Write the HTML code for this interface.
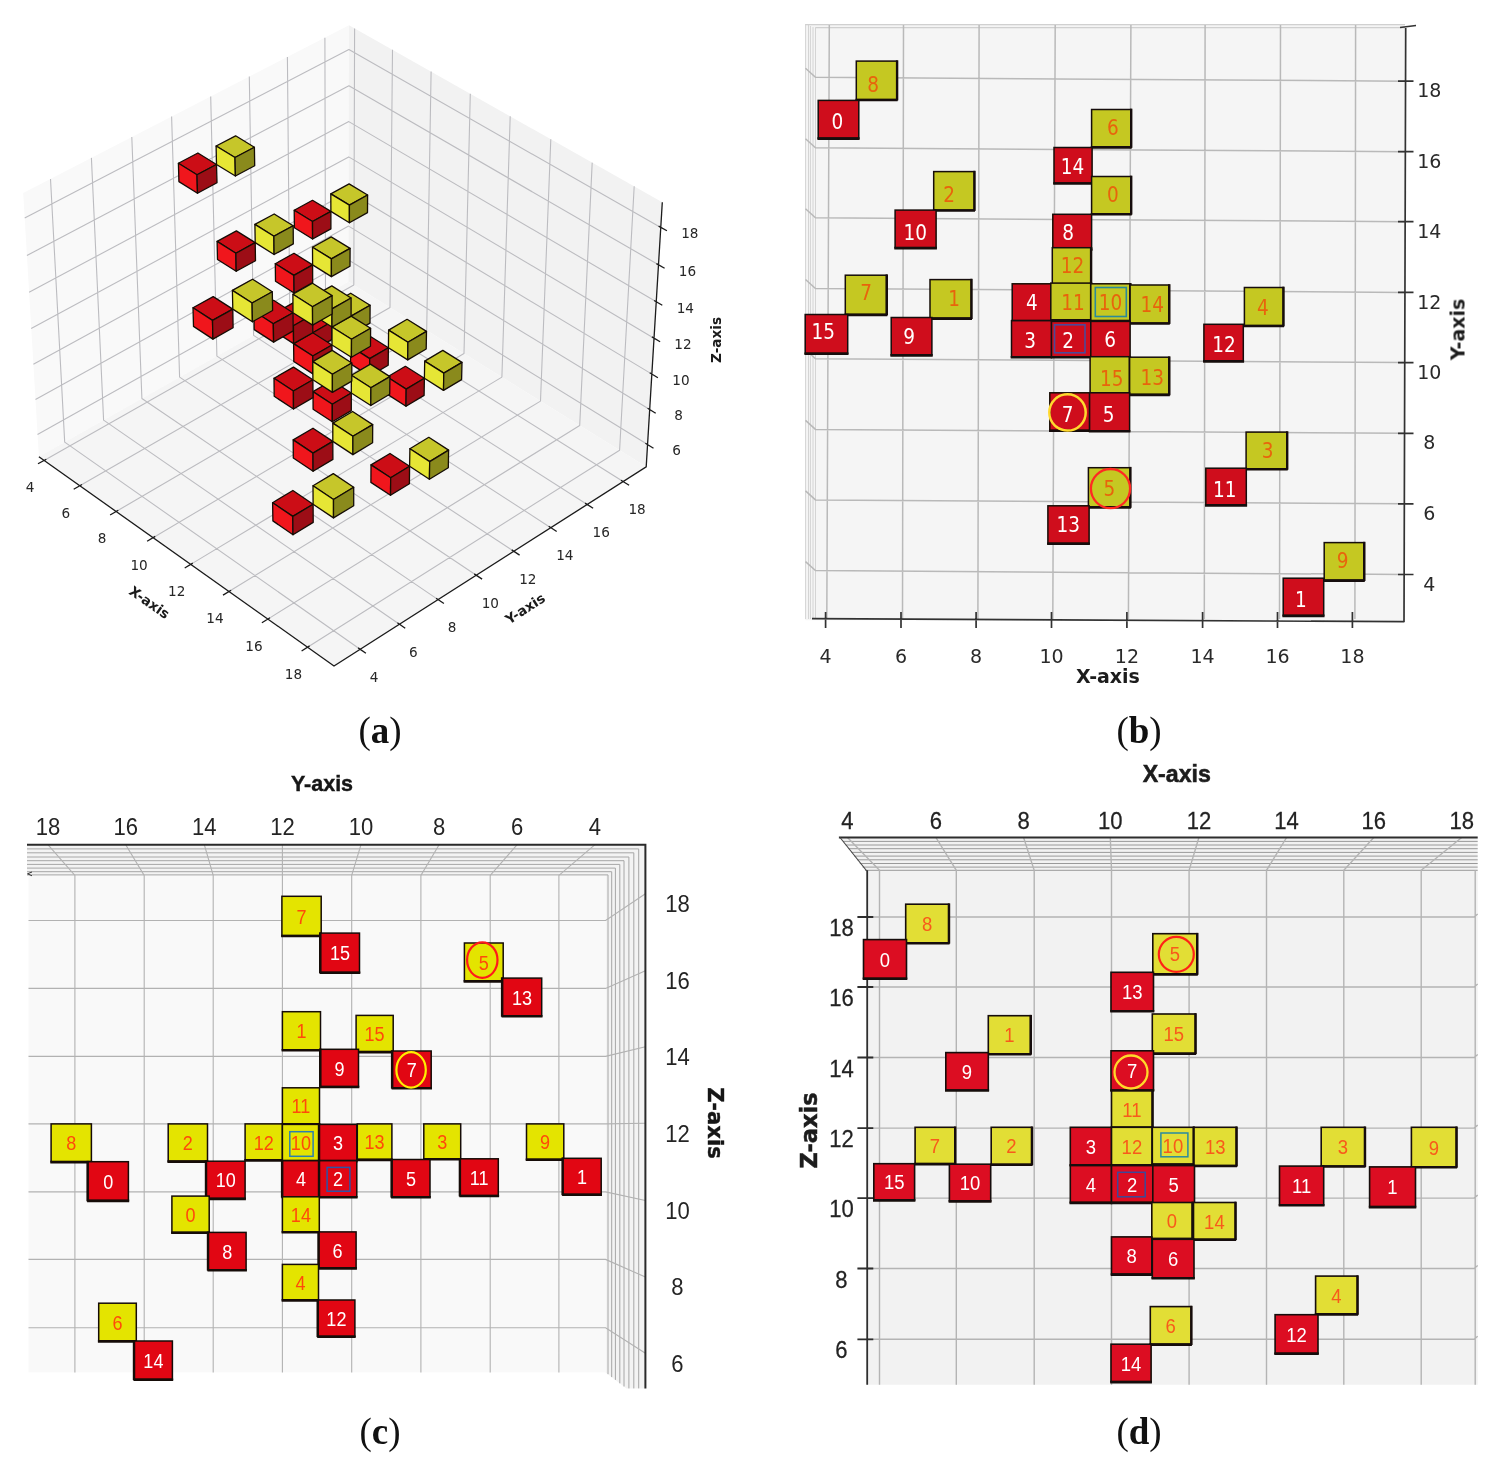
<!DOCTYPE html>
<html><head><meta charset="utf-8"><title>Figure</title>
<style>html,body{margin:0;padding:0;background:#fff}svg{display:block}</style></head>
<body>
<svg width="1500" height="1466" viewBox="0 0 1500 1466">
<defs><filter id="bl1" x="-2%" y="-2%" width="104%" height="104%"><feGaussianBlur stdDeviation="0.55"/></filter><filter id="bl2" x="-2%" y="-2%" width="104%" height="104%"><feGaussianBlur stdDeviation="0.7"/></filter><filter id="bl3" x="-2%" y="-2%" width="104%" height="104%"><feGaussianBlur stdDeviation="0.4"/></filter></defs>
<rect width="1500" height="1466" fill="#fff"/>
<g id="pa" filter="url(#bl1)">
<polygon points="38.9,456.7 348.5,281.7 349,25.2 23.2,193" fill="#f9f9f9"/>
<polygon points="348.5,281.7 646.2,466.8 662.3,202.2 349,25.2" fill="#f2f2f2"/>
<polygon points="38.9,456.7 334,666 646.2,466.8 348.5,281.7" fill="#f5f5f5"/>
<path d="M44.1,460.4 L353.8,285 L354.6,28.4 M79.8,485.7 L390,307.5 L392.5,49.8 M116.1,511.5 L426.7,330.3 L431.1,71.6 M153.1,537.7 L464,353.5 L470.3,93.8 M190.7,564.4 L501.9,377.1 L510.2,116.3 M228.9,591.5 L540.5,401.1 L550.8,139.2 M267.9,619.1 L579.7,425.5 L592.2,162.6 M307.5,647.2 L619.6,450.3 L634.2,186.3 M360.1,649.3 L64.7,442.1 L50.5,179 M399.4,624.3 L103.6,420.1 L91.4,157.9 M438.1,599.6 L141.9,398.5 L131.8,137.1 M476.3,575.2 L179.6,377.1 L171.6,116.6 M513.8,551.3 L216.9,356.1 L210.7,96.4 M550.8,527.7 L253.6,335.4 L249.3,76.6 M587.2,504.5 L289.8,314.9 L287.4,57 M623.1,481.5 L325.5,294.7 L324.9,37.7 M37.5,434.4 L348.6,260 L647.6,444.5 M35.5,399.6 L348.6,226.1 L649.7,409.5 M33.4,364.3 L348.7,191.7 L651.9,374.1 M31.2,328.5 L348.7,156.9 L654,338.2 M29.1,292.2 L348.8,121.6 L656.3,301.8 M26.9,255.4 L348.9,85.8 L658.5,264.8 M24.7,218.1 L348.9,49.6 L660.8,227.4" fill="none" stroke="#bcbcc0" stroke-width="1.1" stroke-linejoin="round"/>
<path d="M38.9,456.7 L334,666 L646.2,466.8 L662.3,202.2 M46.3,459.2 L38,463.8 M82,484.5 L73.7,489.2 M118.3,510.2 L110.1,515 M155.2,536.4 L147.1,541.3 M192.8,563.1 L184.7,568 M231.1,590.2 L223,595.1 M270,617.8 L261.9,622.8 M309.6,645.9 L301.6,651 M358.1,647.9 L365.9,653.3 M397.4,622.8 L405.2,628.2 M436.1,598.2 L443.9,603.5 M474.2,573.9 L482.1,579.1 M511.7,549.9 L519.6,555.1 M548.7,526.3 L556.7,531.5 M585.1,503.1 L593.1,508.2 M621,480.2 L629.1,485.3 M645.4,443.2 L653.5,448.2 M647.6,408.2 L655.7,413.2 M649.7,372.8 L657.9,377.7 M651.9,336.9 L660.1,341.8 M654.1,300.5 L662.3,305.3 M656.4,263.6 L664.6,268.3 M658.6,226.1 L666.9,230.8" fill="none" stroke="#1a1a1a" stroke-width="1.3"/>
<g font-family="'DejaVu Sans','Liberation Sans',sans-serif" font-size="13.6" fill="#262626" text-anchor="middle">
<text x="30.1" y="492.3">4</text>
<text x="65.8" y="517.6">6</text>
<text x="102.1" y="543.4">8</text>
<text x="139.1" y="569.6">10</text>
<text x="176.7" y="596.3">12</text>
<text x="214.9" y="623.4">14</text>
<text x="253.9" y="651">16</text>
<text x="293.5" y="679.1">18</text>
<text x="374.1" y="681.7">4</text>
<text x="413.4" y="656.7">6</text>
<text x="452.1" y="632">8</text>
<text x="490.3" y="607.6">10</text>
<text x="527.8" y="583.7">12</text>
<text x="564.8" y="560.1">14</text>
<text x="601.2" y="536.9">16</text>
<text x="637.1" y="513.9">18</text>
<text x="676.6" y="455.4">6</text>
<text x="678.7" y="420.4">8</text>
<text x="680.9" y="385">10</text>
<text x="683" y="349.1">12</text>
<text x="685.3" y="312.7">14</text>
<text x="687.5" y="275.7">16</text>
<text x="689.8" y="238.3">18</text>
<g font-weight="bold" fill="#1a1a1a">
<text transform="translate(149.5,602.3) rotate(35)" y="4.9">X-axis</text>
<text transform="translate(525,608.5) rotate(-33)" y="4.9">Y-axis</text>
<text transform="translate(716,340) rotate(-90)" y="4.9">Z-axis</text>
</g></g>
<g stroke="#140c06" stroke-width="1.3" stroke-linejoin="round">
<polygon points="312.5,221.5 294.2,210.3 312.5,200.3 330.9,211.4" fill="#cc1019"/>
<polygon points="312.5,221.5 294.2,210.3 294.4,227.7 312.6,239" fill="#f0141f"/>
<polygon points="312.5,221.5 330.9,211.4 330.9,228.9 312.6,239" fill="#9c0a12"/>
<polygon points="349.4,205.1 330.8,193.9 349.1,183.9 367.6,195" fill="#c6c62a"/>
<polygon points="349.4,205.1 330.8,193.9 330.9,211.4 349.4,222.7" fill="#e6e634"/>
<polygon points="349.4,205.1 367.6,195 367.5,212.6 349.4,222.7" fill="#8a8a1c"/>
<polygon points="406.2,389.1 387.3,377 405.4,366.3 424.4,378.3" fill="#cc1019"/>
<polygon points="406.2,389.1 387.3,377 387.1,394.1 406,406.2" fill="#f0141f"/>
<polygon points="406.2,389.1 424.4,378.3 424.1,395.4 406,406.2" fill="#9c0a12"/>
<polygon points="443.8,373.1 424.7,361.1 442.8,350.4 462,362.4" fill="#c6c62a"/>
<polygon points="443.8,373.1 424.7,361.1 424.4,378.3 443.5,390.4" fill="#e6e634"/>
<polygon points="443.8,373.1 462,362.4 461.6,379.6 443.5,390.4" fill="#8a8a1c"/>
<polygon points="293.9,275.4 275.3,263.7 294,253.3 312.6,264.9" fill="#cc1019"/>
<polygon points="293.9,275.4 275.3,263.7 275.5,281.3 294.1,293" fill="#f0141f"/>
<polygon points="293.9,275.4 312.6,264.9 312.7,282.6 294.1,293" fill="#9c0a12"/>
<polygon points="331.4,258.9 312.5,247.2 331.2,236.9 350.1,248.4" fill="#c6c62a"/>
<polygon points="331.4,258.9 312.5,247.2 312.6,264.9 331.4,276.6" fill="#e6e634"/>
<polygon points="331.4,258.9 350.1,248.4 350,266.2 331.4,276.6" fill="#8a8a1c"/>
<polygon points="369.7,358.6 350.6,346.4 369.3,335.7 388.4,347.7" fill="#cc1019"/>
<polygon points="369.7,358.6 350.6,346.4 350.6,363.9 369.6,376.1" fill="#f0141f"/>
<polygon points="369.7,358.6 388.4,347.7 388.2,365.3 369.6,376.1" fill="#9c0a12"/>
<polygon points="407.9,342.2 388.6,330.1 407.1,319.3 426.5,331.4" fill="#c6c62a"/>
<polygon points="407.9,342.2 388.6,330.1 388.4,347.7 407.7,359.9" fill="#e6e634"/>
<polygon points="407.9,342.2 426.5,331.4 426.2,349 407.7,359.9" fill="#8a8a1c"/>
<polygon points="312.8,332.7 293.7,320.5 312.7,309.8 331.8,321.8" fill="#cc1019"/>
<polygon points="312.8,332.7 293.7,320.5 293.9,338.3 312.9,350.5" fill="#f0141f"/>
<polygon points="312.8,332.7 331.8,321.8 331.8,339.6 312.9,350.5" fill="#9c0a12"/>
<polygon points="332.3,404.2 313,391.6 332.1,380.5 351.3,393" fill="#cc1019"/>
<polygon points="332.3,404.2 313,391.6 313.1,409.3 332.3,421.8" fill="#f0141f"/>
<polygon points="332.3,404.2 351.3,393 351.3,410.6 332.3,421.8" fill="#9c0a12"/>
<polygon points="351.1,316.1 331.8,303.9 350.7,293.2 370.1,305.2" fill="#c6c62a"/>
<polygon points="351.1,316.1 331.8,303.9 331.8,321.8 351.1,334" fill="#e6e634"/>
<polygon points="351.1,316.1 370.1,305.2 370,323.1 351.1,334" fill="#8a8a1c"/>
<polygon points="235.9,253.2 217.1,241.4 236.4,230.9 255.2,242.6" fill="#cc1019"/>
<polygon points="235.9,253.2 217.1,241.4 217.5,259.5 236.2,271.3" fill="#f0141f"/>
<polygon points="235.9,253.2 255.2,242.6 255.5,260.7 236.2,271.3" fill="#9c0a12"/>
<polygon points="390.7,477.8 371,464.9 390,453.5 409.6,466.3" fill="#cc1019"/>
<polygon points="390.7,477.8 371,464.9 370.9,482.4 390.5,495.3" fill="#f0141f"/>
<polygon points="390.7,477.8 409.6,466.3 409.4,483.8 390.5,495.3" fill="#9c0a12"/>
<polygon points="370.9,387.7 351.4,375.2 370.4,364.1 389.9,376.6" fill="#c6c62a"/>
<polygon points="370.9,387.7 351.4,375.2 351.3,393 370.8,405.5" fill="#e6e634"/>
<polygon points="370.9,387.7 389.9,376.6 389.7,394.3 370.8,405.5" fill="#8a8a1c"/>
<polygon points="312.8,356 293.6,343.6 312.8,332.7 332,345" fill="#cc1019"/>
<polygon points="312.8,356 293.6,343.6 293.8,361.5 312.9,373.9" fill="#f0141f"/>
<polygon points="312.8,356 332,345 332,362.8 312.9,373.9" fill="#9c0a12"/>
<polygon points="293.4,325.7 274.3,313.5 293.6,302.6 312.7,314.8" fill="#cc1019"/>
<polygon points="293.4,325.7 274.3,313.5 274.5,331.4 293.6,343.6" fill="#f0141f"/>
<polygon points="293.4,325.7 312.7,314.8 312.8,332.7 293.6,343.6" fill="#9c0a12"/>
<polygon points="273.9,236.3 254.9,224.4 274.2,214 293.2,225.7" fill="#c6c62a"/>
<polygon points="273.9,236.3 254.9,224.4 255.2,242.6 274.1,254.5" fill="#e6e634"/>
<polygon points="273.9,236.3 293.2,225.7 293.3,243.9 274.1,254.5" fill="#8a8a1c"/>
<polygon points="197,174.8 178.4,163.3 197.9,153 216.5,164.5" fill="#cc1019"/>
<polygon points="197,174.8 178.4,163.3 178.9,181.6 197.5,193.2" fill="#f0141f"/>
<polygon points="197,174.8 216.5,164.5 217,182.8 197.5,193.2" fill="#9c0a12"/>
<polygon points="429.7,461.6 409.9,448.7 428.8,437.3 448.6,450.1" fill="#c6c62a"/>
<polygon points="429.7,461.6 409.9,448.7 409.6,466.3 429.4,479.2" fill="#e6e634"/>
<polygon points="429.7,461.6 448.6,450.1 448.3,467.7 429.4,479.2" fill="#8a8a1c"/>
<polygon points="351.5,339.3 332,327 351.1,316.1 370.6,328.3" fill="#c6c62a"/>
<polygon points="351.5,339.3 332,327 332,345 351.4,357.3" fill="#e6e634"/>
<polygon points="351.5,339.3 370.6,328.3 370.5,346.3 351.4,357.3" fill="#8a8a1c"/>
<polygon points="332,308.9 312.6,296.7 331.8,285.9 351.1,298" fill="#c6c62a"/>
<polygon points="332,308.9 312.6,296.7 312.7,314.8 332,327" fill="#e6e634"/>
<polygon points="332,308.9 351.1,298 351.1,316.1 332,327" fill="#8a8a1c"/>
<polygon points="235,157.5 216.1,146 235.6,135.8 254.4,147.2" fill="#c6c62a"/>
<polygon points="235,157.5 216.1,146 216.5,164.5 235.4,176" fill="#e6e634"/>
<polygon points="235,157.5 254.4,147.2 254.7,165.7 235.4,176" fill="#8a8a1c"/>
<polygon points="293.4,391 274,378.3 293.5,367.1 312.9,379.7" fill="#cc1019"/>
<polygon points="293.4,391 274,378.3 274.2,396.3 293.5,409" fill="#f0141f"/>
<polygon points="293.4,391 312.9,379.7 313,397.6 293.5,409" fill="#9c0a12"/>
<polygon points="332.4,374.3 312.8,361.6 332.2,350.4 351.8,363" fill="#c6c62a"/>
<polygon points="332.4,374.3 312.8,361.6 312.9,379.7 332.4,392.4" fill="#e6e634"/>
<polygon points="332.4,374.3 351.8,363 351.8,381.1 332.4,392.4" fill="#8a8a1c"/>
<polygon points="273.3,323.8 253.9,311.3 273.6,300.3 293,312.7" fill="#cc1019"/>
<polygon points="273.3,323.8 253.9,311.3 254.2,329.6 273.6,342.1" fill="#f0141f"/>
<polygon points="273.3,323.8 293,312.7 293.2,330.9 273.6,342.1" fill="#9c0a12"/>
<polygon points="312.5,306.7 292.9,294.3 312.5,283.2 332.1,295.6" fill="#c6c62a"/>
<polygon points="312.5,306.7 292.9,294.3 293,312.7 312.6,325.1" fill="#e6e634"/>
<polygon points="312.5,306.7 332.1,295.6 332.1,314 312.6,325.1" fill="#8a8a1c"/>
<polygon points="313,453.1 293.2,439.9 313,428.2 332.8,441.4" fill="#cc1019"/>
<polygon points="313,453.1 293.2,439.9 293.3,458 313.1,471.2" fill="#f0141f"/>
<polygon points="313,453.1 332.8,441.4 332.9,459.4 313.1,471.2" fill="#9c0a12"/>
<polygon points="352.9,436.3 332.8,423.1 352.6,411.5 372.7,424.6" fill="#c6c62a"/>
<polygon points="352.9,436.3 332.8,423.1 332.8,441.4 352.9,454.6" fill="#e6e634"/>
<polygon points="352.9,436.3 372.7,424.6 372.6,442.8 352.9,454.6" fill="#8a8a1c"/>
<polygon points="212.5,320.4 193,307.8 213.2,296.6 232.8,309.1" fill="#cc1019"/>
<polygon points="212.5,320.4 193,307.8 193.5,326.4 212.9,339.1" fill="#f0141f"/>
<polygon points="212.5,320.4 232.8,309.1 233.1,327.8 212.9,339.1" fill="#9c0a12"/>
<polygon points="252.1,303 232.4,290.4 252.6,279.2 272.3,291.7" fill="#c6c62a"/>
<polygon points="252.1,303 232.4,290.4 232.8,309.1 252.4,321.8" fill="#e6e634"/>
<polygon points="252.1,303 272.3,291.7 272.6,310.5 252.4,321.8" fill="#8a8a1c"/>
<polygon points="292.8,516.4 272.6,502.7 292.9,490.5 313.1,504.2" fill="#cc1019"/>
<polygon points="292.8,516.4 272.6,502.7 272.9,520.9 293,534.7" fill="#f0141f"/>
<polygon points="292.8,516.4 313.1,504.2 313.2,522.4 293,534.7" fill="#9c0a12"/>
<polygon points="333.5,499.5 313,485.8 333.3,473.6 353.7,487.3" fill="#c6c62a"/>
<polygon points="333.5,499.5 313,485.8 313.1,504.2 333.5,517.9" fill="#e6e634"/>
<polygon points="333.5,499.5 353.7,487.3 353.7,505.7 333.5,517.9" fill="#8a8a1c"/>
</g>
</g>
<g id="pb" filter="url(#bl2)">
<rect x="805.2" y="24.2" width="599.6" height="596" fill="#f5f5f5"/>
<path d="M805.6 24.2V619 M808.5 25V619 M810.4 26V619 M813 27V619 M815.5 27.4V619" stroke="#d4d4d4" stroke-width="1" fill="none"/>
<path d="M805.2 24.7H1405 M815.5 27.6H1405" stroke="#d0d0d0" stroke-width="1.3" fill="none"/>
<path d="M829.3 25L826.8 619 M903.5 25L902.5 619 M979.1 25L977.9 619 M1055.2 25L1052.8 619 M1130.9 25L1128.4 619 M1205.1 25L1204.3 619 M1280.5 25L1279.5 619 M1355.6 25L1354.9 619 M805.5 68.3L815.5 77.3L1404.5 81.2 M805.5 138.8L815.5 147.8L1404.5 151.7 M805.5 208.8L815.5 217.8L1404.5 221.7 M805.5 279.5L815.5 288.5L1404.5 292.4 M805.5 349.7L815.5 358.7L1404.5 362.6 M805.5 420.4L815.5 429.4L1404.5 433.3 M805.5 490.9L815.5 499.9L1404.5 503.8 M805.5 561.6L815.5 570.6L1404.5 574.5" stroke="#b9b9b9" stroke-width="1.5" fill="none"/>
<path d="M812 618.7L1404 621.7 M1405.7 28L1404 622.3 M1400 27.5L1416 25.5 M825.6 612V628 M901 612V628 M976.1 612V628 M1051.5 612V628 M1126.9 612V628 M1202.6 612V628 M1277.5 612V628 M1352.4 612V628 M1398 81.2H1413.5 M1398 151.7H1413.5 M1398 221.7H1413.5 M1398 292.4H1413.5 M1398 362.6H1413.5 M1398 433.3H1413.5 M1398 503.8H1413.5 M1398 574.5H1413.5" stroke="#333" stroke-width="1.7" fill="none"/>
<g font-family="'DejaVu Sans','Liberation Sans',sans-serif" font-size="19" fill="#2a2a2a" text-anchor="middle">
<text x="825.6" y="663.1">4</text>
<text x="901" y="663.1">6</text>
<text x="976.1" y="663.1">8</text>
<text x="1051.5" y="663.1">10</text>
<text x="1126.9" y="663.1">12</text>
<text x="1202.6" y="663.1">14</text>
<text x="1277.5" y="663.1">16</text>
<text x="1352.4" y="663.1">18</text>
<text x="1429.3" y="97.3">18</text>
<text x="1429.3" y="167.8">16</text>
<text x="1429.3" y="237.8">14</text>
<text x="1429.3" y="308.5">12</text>
<text x="1429.3" y="378.7">10</text>
<text x="1429.3" y="449.4">8</text>
<text x="1429.3" y="519.9">6</text>
<text x="1429.3" y="590.6">4</text>
<g font-weight="bold" font-size="19" fill="#1c1c1c"><text x="1108" y="682.6">X-axis</text>
<text transform="translate(1457.5,329.5) rotate(-90)" y="6.6">Y-axis</text></g></g>
<g font-family="'DejaVu Sans Condensed','DejaVu Sans',sans-serif" font-size="20.5" text-anchor="middle">
<rect x="856.3" y="61.1" width="40.5" height="38.5" fill="#c5c822" stroke="#160c08" stroke-width="1.5"/>
<path d="M855.5 100 H897.6" stroke="#160c08" stroke-width="2.6"/>
<path d="M897.1 60.3 V100.4" stroke="#160c08" stroke-width="2.4"/>
<text x="873" y="91.6" fill="#e8640a">8</text>
<rect x="818.2" y="100.4" width="40.6" height="37.8" fill="#cf0f1c" stroke="#160c08" stroke-width="1.5"/>
<path d="M817.4 138.6 H859.6" stroke="#160c08" stroke-width="2.6"/>
<text x="837.4" y="129.1" fill="#ffffff">0</text>
<rect x="1091.6" y="109.5" width="39.3" height="37.5" fill="#c5c822" stroke="#160c08" stroke-width="1.5"/>
<path d="M1090.8 147.4 H1131.7" stroke="#160c08" stroke-width="2.6"/>
<path d="M1131.2 108.7 V147.8" stroke="#160c08" stroke-width="2.4"/>
<text x="1112.9" y="135.3" fill="#e8640a">6</text>
<rect x="1054" y="147.5" width="38.1" height="35.6" fill="#cf0f1c" stroke="#160c08" stroke-width="1.5"/>
<path d="M1053.2 183.5 H1092.9" stroke="#160c08" stroke-width="2.6"/>
<text x="1072.4" y="173.8" fill="#ffffff">14</text>
<rect x="1091.6" y="176.5" width="39.3" height="37.3" fill="#c5c822" stroke="#160c08" stroke-width="1.5"/>
<path d="M1090.8 214.2 H1131.7" stroke="#160c08" stroke-width="2.6"/>
<path d="M1131.2 175.7 V214.6" stroke="#160c08" stroke-width="2.4"/>
<text x="1112.9" y="201.6" fill="#e8640a">0</text>
<rect x="933.7" y="171.6" width="40.5" height="38.5" fill="#c5c822" stroke="#160c08" stroke-width="1.5"/>
<path d="M932.9 210.5 H975" stroke="#160c08" stroke-width="2.6"/>
<path d="M974.5 170.8 V210.9" stroke="#160c08" stroke-width="2.4"/>
<text x="949.1" y="201.6" fill="#e8640a">2</text>
<rect x="895.1" y="210.1" width="41" height="37.6" fill="#cf0f1c" stroke="#160c08" stroke-width="1.5"/>
<path d="M894.3 248.1 H936.9" stroke="#160c08" stroke-width="2.6"/>
<text x="915.2" y="240.4" fill="#ffffff">10</text>
<rect x="1052.8" y="214.3" width="38.8" height="35.1" fill="#cf0f1c" stroke="#160c08" stroke-width="1.5"/>
<path d="M1052 249.8 H1092.4" stroke="#160c08" stroke-width="2.6"/>
<text x="1068.2" y="240.4" fill="#ffffff">8</text>
<rect x="1052.3" y="247.7" width="38.5" height="36.1" fill="#c5c822" stroke="#160c08" stroke-width="1.5"/>
<path d="M1051.5 284.2 H1091.6" stroke="#160c08" stroke-width="2.6"/>
<path d="M1091.1 246.9 V284.6" stroke="#160c08" stroke-width="2.4"/>
<text x="1072.4" y="272.8" fill="#e8640a">12</text>
<rect x="845.3" y="275.2" width="41.2" height="39.3" fill="#c5c822" stroke="#160c08" stroke-width="1.5"/>
<path d="M844.5 314.9 H887.3" stroke="#160c08" stroke-width="2.6"/>
<path d="M886.8 274.4 V315.3" stroke="#160c08" stroke-width="2.4"/>
<text x="866.1" y="299.8" fill="#e8640a">7</text>
<rect x="930" y="279.6" width="41.2" height="38.6" fill="#c5c822" stroke="#160c08" stroke-width="1.5"/>
<path d="M929.2 318.6 H972" stroke="#160c08" stroke-width="2.6"/>
<path d="M971.5 278.8 V319" stroke="#160c08" stroke-width="2.4"/>
<text x="954" y="306" fill="#e8640a">1</text>
<rect x="1012.2" y="283.8" width="39.3" height="36.9" fill="#cf0f1c" stroke="#160c08" stroke-width="1.5"/>
<path d="M1011.4 321.1 H1052.3" stroke="#160c08" stroke-width="2.6"/>
<text x="1031.9" y="310.1" fill="#ffffff">4</text>
<rect x="1050.8" y="283.1" width="40" height="36.8" fill="#c5c822" stroke="#160c08" stroke-width="1.5"/>
<path d="M1050 320.3 H1091.6" stroke="#160c08" stroke-width="2.6"/>
<path d="M1091.1 282.3 V320.7" stroke="#160c08" stroke-width="2.4"/>
<text x="1072.9" y="310.1" fill="#e8640a">11</text>
<rect x="1090.8" y="283.8" width="39.3" height="36.9" fill="#c5c822" stroke="#160c08" stroke-width="1.5"/>
<path d="M1090 321.1 H1130.9" stroke="#160c08" stroke-width="2.6"/>
<path d="M1130.4 283 V321.5" stroke="#160c08" stroke-width="2.4"/>
<text x="1110.5" y="309.6" fill="#e8640a">10</text>
<rect x="1130.1" y="285" width="38.9" height="38.1" fill="#c5c822" stroke="#160c08" stroke-width="1.5"/>
<path d="M1129.3 323.5 H1169.8" stroke="#160c08" stroke-width="2.6"/>
<path d="M1169.3 284.2 V323.9" stroke="#160c08" stroke-width="2.4"/>
<text x="1152.3" y="312.1" fill="#e8640a">14</text>
<rect x="1244.4" y="287.5" width="38.8" height="38.1" fill="#c5c822" stroke="#160c08" stroke-width="1.5"/>
<path d="M1243.6 326 H1284" stroke="#160c08" stroke-width="2.6"/>
<path d="M1283.5 286.7 V326.4" stroke="#160c08" stroke-width="2.4"/>
<text x="1262.8" y="314.6" fill="#e8640a">4</text>
<rect x="805.2" y="314.5" width="42.5" height="38.8" fill="#cf0f1c" stroke="#160c08" stroke-width="1.5"/>
<path d="M804.4 353.7 H848.5" stroke="#160c08" stroke-width="2.6"/>
<text x="823.2" y="339.1" fill="#ffffff">15</text>
<rect x="891.2" y="317.5" width="40.7" height="37.5" fill="#cf0f1c" stroke="#160c08" stroke-width="1.5"/>
<path d="M890.4 355.4 H932.7" stroke="#160c08" stroke-width="2.6"/>
<text x="909.1" y="343.5" fill="#ffffff">9</text>
<rect x="1011.5" y="320.7" width="40" height="36.1" fill="#cf0f1c" stroke="#160c08" stroke-width="1.5"/>
<path d="M1010.7 357.2 H1052.3" stroke="#160c08" stroke-width="2.6"/>
<text x="1030.2" y="347.7" fill="#ffffff">3</text>
<rect x="1051.5" y="321.4" width="39.3" height="35.4" fill="#cf0f1c" stroke="#160c08" stroke-width="1.5"/>
<path d="M1050.7 357.2 H1091.6" stroke="#160c08" stroke-width="2.6"/>
<text x="1068.2" y="347.7" fill="#ffffff">2</text>
<rect x="1090.8" y="321.4" width="39.3" height="35.4" fill="#cf0f1c" stroke="#160c08" stroke-width="1.5"/>
<path d="M1090 357.2 H1130.9" stroke="#160c08" stroke-width="2.6"/>
<text x="1110" y="347.2" fill="#ffffff">6</text>
<rect x="1203.9" y="324.3" width="39.4" height="36.7" fill="#cf0f1c" stroke="#160c08" stroke-width="1.5"/>
<path d="M1203.1 361.4 H1244.1" stroke="#160c08" stroke-width="2.6"/>
<text x="1224" y="351.9" fill="#ffffff">12</text>
<rect x="1090.1" y="356.7" width="39.5" height="36.1" fill="#c5c822" stroke="#160c08" stroke-width="1.5"/>
<path d="M1089.3 393.2 H1130.4" stroke="#160c08" stroke-width="2.6"/>
<path d="M1129.9 355.9 V393.6" stroke="#160c08" stroke-width="2.4"/>
<text x="1111.7" y="385.5" fill="#e8640a">15</text>
<rect x="1129.6" y="357.2" width="39.4" height="37.3" fill="#c5c822" stroke="#160c08" stroke-width="1.5"/>
<path d="M1128.8 394.9 H1169.8" stroke="#160c08" stroke-width="2.6"/>
<path d="M1169.3 356.4 V395.3" stroke="#160c08" stroke-width="2.4"/>
<text x="1152.3" y="384.7" fill="#e8640a">13</text>
<rect x="1049.8" y="392.8" width="39.8" height="37.6" fill="#cf0f1c" stroke="#160c08" stroke-width="1.5"/>
<path d="M1049 430.8 H1090.4" stroke="#160c08" stroke-width="2.6"/>
<text x="1067.5" y="422.3" fill="#ffffff">7</text>
<rect x="1089.6" y="392.8" width="40" height="38.1" fill="#cf0f1c" stroke="#160c08" stroke-width="1.5"/>
<path d="M1088.8 431.3 H1130.4" stroke="#160c08" stroke-width="2.6"/>
<text x="1108.5" y="421.8" fill="#ffffff">5</text>
<rect x="1246.1" y="432.1" width="40.8" height="36.8" fill="#c5c822" stroke="#160c08" stroke-width="1.5"/>
<path d="M1245.3 469.3 H1287.7" stroke="#160c08" stroke-width="2.6"/>
<path d="M1287.2 431.3 V469.7" stroke="#160c08" stroke-width="2.4"/>
<text x="1267.7" y="458.4" fill="#e8640a">3</text>
<rect x="1088.4" y="467.7" width="41.7" height="39.3" fill="#c5c822" stroke="#160c08" stroke-width="1.5"/>
<path d="M1087.6 507.4 H1130.9" stroke="#160c08" stroke-width="2.6"/>
<path d="M1130.4 466.9 V507.8" stroke="#160c08" stroke-width="2.4"/>
<text x="1109.3" y="496" fill="#e8640a">5</text>
<rect x="1205.8" y="468.2" width="40.5" height="36.8" fill="#cf0f1c" stroke="#160c08" stroke-width="1.5"/>
<path d="M1205 505.4 H1247.1" stroke="#160c08" stroke-width="2.6"/>
<text x="1224.7" y="496.7" fill="#ffffff">11</text>
<rect x="1047.9" y="505.8" width="41.2" height="37.5" fill="#cf0f1c" stroke="#160c08" stroke-width="1.5"/>
<path d="M1047.1 543.7 H1089.9" stroke="#160c08" stroke-width="2.6"/>
<text x="1068.2" y="532.1" fill="#ffffff">13</text>
<rect x="1324.2" y="542.6" width="39.8" height="37.6" fill="#c5c822" stroke="#160c08" stroke-width="1.5"/>
<path d="M1323.4 580.6 H1364.8" stroke="#160c08" stroke-width="2.6"/>
<path d="M1364.3 541.8 V581" stroke="#160c08" stroke-width="2.4"/>
<text x="1342.6" y="568.4" fill="#e8640a">9</text>
<rect x="1283.2" y="578.2" width="40.5" height="37.3" fill="#cf0f1c" stroke="#160c08" stroke-width="1.5"/>
<path d="M1282.4 615.9 H1324.5" stroke="#160c08" stroke-width="2.6"/>
<text x="1300.9" y="606.5" fill="#ffffff">1</text>
</g>
<circle cx="1067.5" cy="412.4" r="18.2" fill="none" stroke="#ffd92e" stroke-width="2.5"/>
<circle cx="1110.5" cy="488.6" r="19.6" fill="none" stroke="#ff2a24" stroke-width="2.3"/>
<rect x="1095.3" y="287.5" width="31" height="29" fill="none" stroke="#2a8a9a" stroke-width="1.6"/>
<rect x="1054.5" y="324.8" width="30.5" height="28" fill="none" stroke="#4a4a9a" stroke-width="1.6"/>
</g>
<g id="pc">
<polygon points="27,844.7 645.4,844.7 645.4,1388.4 626.5,1388.4 605.6,1372.4 605.6,875.4 27,875.4" fill="#f3f3f3"/>
<rect x="28.5" y="875.4" width="577.1" height="497" fill="#f9f9f9"/>
<path d="M27 848.9H638.7V1388.4 M27 852.8H633.8V1388.4 M27 857H628.9V1388.4 M27 860.7H624V1386.5 M27 864.4H619.8V1383.3 M27 868.1H615.4V1379.9 M27 871.7H611.7V1377.1 M27 874.9H608V1374.2" stroke="#a6a6a6" stroke-width="1" fill="none"/>
<path d="M47.9 844.7L74.9 875.4V1372.4 M125.7 844.7L144.2 875.4V1372.4 M204.3 844.7L213.2 875.4V1372.4 M282.4 844.7L282.4 875.4V1372.4 M361 844.7L351.7 875.4V1372.4 M439.1 844.7L420.9 875.4V1372.4 M517.2 844.7L490.2 875.4V1372.4 M595 844.7L558.9 875.4V1372.4 M645.4 893.8L605.6 920.5H28.5 M645.4 970.7L605.6 988.4H28.5 M645.4 1046.8L605.6 1056.4H28.5 M645.4 1123.2L605.6 1123.9H28.5 M645.4 1200.5L605.6 1191.9H28.5 M645.4 1277.1L605.6 1259.4H28.5 M645.4 1353.3L605.6 1327.7H28.5" stroke="#b2b2b2" stroke-width="1.1" fill="none"/>
<path d="M27 844.7H645.4V1388.4" stroke="#2a2a2a" stroke-width="2" fill="none" stroke-linejoin="miter"/>
<path d="M27.5 873.8l4.5 -1.8 M27.5 873.8l4.5 2" stroke="#333" stroke-width="1" fill="none"/>
<g font-family="'Liberation Sans','DejaVu Sans',sans-serif" font-size="24" fill="#242424" text-anchor="middle">
<text transform="translate(47.9,834.9) scale(0.92,1)">18</text>
<text transform="translate(125.7,834.9) scale(0.92,1)">16</text>
<text transform="translate(204.3,834.9) scale(0.92,1)">14</text>
<text transform="translate(282.4,834.9) scale(0.92,1)">12</text>
<text transform="translate(361,834.9) scale(0.92,1)">10</text>
<text transform="translate(439.1,834.9) scale(0.92,1)">8</text>
<text transform="translate(517.2,834.9) scale(0.92,1)">6</text>
<text transform="translate(595,834.9) scale(0.92,1)">4</text>
<text transform="translate(677.5,912.1) scale(0.92,1)">18</text>
<text transform="translate(677.5,989) scale(0.92,1)">16</text>
<text transform="translate(677.5,1065.1) scale(0.92,1)">14</text>
<text transform="translate(677.5,1141.5) scale(0.92,1)">12</text>
<text transform="translate(677.5,1218.8) scale(0.92,1)">10</text>
<text transform="translate(677.5,1295.4) scale(0.92,1)">8</text>
<text transform="translate(677.5,1371.6) scale(0.92,1)">6</text>
<g font-weight="bold" font-size="21.5" fill="#161616" stroke="#161616" stroke-width="0.4"><text x="322" y="790.7">Y-axis</text>
<text transform="translate(716,1123) rotate(90)" y="7.7" font-family="'DejaVu Sans','Liberation Sans',sans-serif" font-size="21.2">Z-axis</text></g></g>
<g font-family="'Liberation Sans','DejaVu Sans',sans-serif" font-size="21" text-anchor="middle">
<rect x="281.9" y="896.3" width="39.3" height="39.3" fill="#e4e400" stroke="#160c08" stroke-width="1.5"/>
<path d="M281.1 936 H322" stroke="#160c08" stroke-width="2.6"/>
<text transform="translate(301.5,923.5) scale(0.86,1)" fill="#ff4a0a">7</text>
<rect x="320.5" y="933.1" width="39" height="39.3" fill="#e10613" stroke="#160c08" stroke-width="1.5"/>
<path d="M319.7 972.8 H360.3" stroke="#160c08" stroke-width="2.6"/>
<path d="M320.2 932.3 V973.2" stroke="#160c08" stroke-width="2.4"/>
<text transform="translate(340,960.3) scale(0.86,1)" fill="#ffffff">15</text>
<rect x="464.4" y="943" width="38.8" height="38" fill="#e4e400" stroke="#160c08" stroke-width="1.5"/>
<path d="M463.6 981.4 H504" stroke="#160c08" stroke-width="2.6"/>
<text transform="translate(483.8,969.6) scale(0.86,1)" fill="#ff4a0a">5</text>
<rect x="502.4" y="978.1" width="39.3" height="37.8" fill="#e10613" stroke="#160c08" stroke-width="1.5"/>
<path d="M501.6 1016.3 H542.5" stroke="#160c08" stroke-width="2.6"/>
<path d="M502.1 977.3 V1016.7" stroke="#160c08" stroke-width="2.4"/>
<text transform="translate(522,1004.6) scale(0.86,1)" fill="#ffffff">13</text>
<rect x="282.4" y="1011.7" width="38.1" height="38.1" fill="#e4e400" stroke="#160c08" stroke-width="1.5"/>
<path d="M281.6 1050.2 H321.3" stroke="#160c08" stroke-width="2.6"/>
<text transform="translate(301.4,1038.3) scale(0.86,1)" fill="#ff4a0a">1</text>
<rect x="356.1" y="1015.4" width="37.1" height="36.3" fill="#e4e400" stroke="#160c08" stroke-width="1.5"/>
<path d="M355.3 1052.1 H394" stroke="#160c08" stroke-width="2.6"/>
<text transform="translate(374.6,1041.1) scale(0.86,1)" fill="#ff4a0a">15</text>
<rect x="320.5" y="1049.3" width="38" height="37.3" fill="#e10613" stroke="#160c08" stroke-width="1.5"/>
<path d="M319.7 1087 H359.3" stroke="#160c08" stroke-width="2.6"/>
<path d="M320.2 1048.5 V1087.4" stroke="#160c08" stroke-width="2.4"/>
<text transform="translate(339.5,1075.5) scale(0.86,1)" fill="#ffffff">9</text>
<rect x="392.4" y="1051" width="38.8" height="36.8" fill="#e10613" stroke="#160c08" stroke-width="1.5"/>
<path d="M391.6 1088.2 H432" stroke="#160c08" stroke-width="2.6"/>
<path d="M392.1 1050.2 V1088.6" stroke="#160c08" stroke-width="2.4"/>
<text transform="translate(411.8,1077) scale(0.86,1)" fill="#ffffff">7</text>
<rect x="282.4" y="1087.8" width="37.1" height="36.1" fill="#e4e400" stroke="#160c08" stroke-width="1.5"/>
<path d="M281.6 1124.3 H320.3" stroke="#160c08" stroke-width="2.6"/>
<text transform="translate(300.9,1113.4) scale(0.86,1)" fill="#ff4a0a">11</text>
<rect x="51.1" y="1123.9" width="40.3" height="37.8" fill="#e4e400" stroke="#160c08" stroke-width="1.5"/>
<path d="M50.3 1162.1 H92.2" stroke="#160c08" stroke-width="2.6"/>
<text transform="translate(71.2,1150.4) scale(0.86,1)" fill="#ff4a0a">8</text>
<rect x="87.9" y="1161.7" width="40.5" height="38.8" fill="#e10613" stroke="#160c08" stroke-width="1.5"/>
<path d="M87.1 1200.9 H129.2" stroke="#160c08" stroke-width="2.6"/>
<path d="M87.6 1160.9 V1201.3" stroke="#160c08" stroke-width="2.4"/>
<text transform="translate(108.2,1188.7) scale(0.86,1)" fill="#ffffff">0</text>
<rect x="168.2" y="1123.9" width="39.3" height="37.3" fill="#e4e400" stroke="#160c08" stroke-width="1.5"/>
<path d="M167.4 1161.6 H208.3" stroke="#160c08" stroke-width="2.6"/>
<text transform="translate(187.8,1150.1) scale(0.86,1)" fill="#ff4a0a">2</text>
<rect x="206.3" y="1161.2" width="38.8" height="37.3" fill="#e10613" stroke="#160c08" stroke-width="1.5"/>
<path d="M205.5 1198.9 H245.9" stroke="#160c08" stroke-width="2.6"/>
<path d="M206 1160.4 V1199.3" stroke="#160c08" stroke-width="2.4"/>
<text transform="translate(225.7,1187.4) scale(0.86,1)" fill="#ffffff">10</text>
<rect x="245.1" y="1123.9" width="37.3" height="36.1" fill="#e4e400" stroke="#160c08" stroke-width="1.5"/>
<path d="M244.3 1160.4 H283.2" stroke="#160c08" stroke-width="2.6"/>
<text transform="translate(263.8,1149.5) scale(0.86,1)" fill="#ff4a0a">12</text>
<rect x="282.4" y="1124.4" width="36.9" height="36.3" fill="#e4e400" stroke="#160c08" stroke-width="1.5"/>
<path d="M281.6 1161.1 H320.1" stroke="#160c08" stroke-width="2.6"/>
<text transform="translate(300.9,1150.1) scale(0.86,1)" fill="#ff4a0a">10</text>
<rect x="319.3" y="1124.4" width="37.5" height="36.3" fill="#e10613" stroke="#160c08" stroke-width="1.5"/>
<path d="M318.5 1161.1 H357.6" stroke="#160c08" stroke-width="2.6"/>
<path d="M319 1123.6 V1161.5" stroke="#160c08" stroke-width="2.4"/>
<text transform="translate(338.1,1150.1) scale(0.86,1)" fill="#ffffff">3</text>
<rect x="357.3" y="1123.9" width="34.6" height="35.6" fill="#e4e400" stroke="#160c08" stroke-width="1.5"/>
<path d="M356.5 1159.9 H392.7" stroke="#160c08" stroke-width="2.6"/>
<text transform="translate(374.6,1149.3) scale(0.86,1)" fill="#ff4a0a">13</text>
<rect x="423.8" y="1123.9" width="36.9" height="34.9" fill="#e4e400" stroke="#160c08" stroke-width="1.5"/>
<path d="M423 1159.2 H461.5" stroke="#160c08" stroke-width="2.6"/>
<text transform="translate(442.2,1148.9) scale(0.86,1)" fill="#ff4a0a">3</text>
<rect x="526.5" y="1123.9" width="37.3" height="35.4" fill="#e4e400" stroke="#160c08" stroke-width="1.5"/>
<path d="M525.7 1159.7 H564.6" stroke="#160c08" stroke-width="2.6"/>
<text transform="translate(545.1,1149.2) scale(0.86,1)" fill="#ff4a0a">9</text>
<rect x="282.4" y="1160.7" width="36.9" height="36.1" fill="#e10613" stroke="#160c08" stroke-width="1.5"/>
<path d="M281.6 1197.2 H320.1" stroke="#160c08" stroke-width="2.6"/>
<path d="M282.1 1159.9 V1197.6" stroke="#160c08" stroke-width="2.4"/>
<text transform="translate(300.9,1186.3) scale(0.86,1)" fill="#ffffff">4</text>
<rect x="319.3" y="1160.7" width="37.5" height="36.1" fill="#e10613" stroke="#160c08" stroke-width="1.5"/>
<path d="M318.5 1197.2 H357.6" stroke="#160c08" stroke-width="2.6"/>
<path d="M319 1159.9 V1197.6" stroke="#160c08" stroke-width="2.4"/>
<text transform="translate(338.1,1186.3) scale(0.86,1)" fill="#ffffff">2</text>
<rect x="391.9" y="1159.5" width="38.1" height="37.3" fill="#e10613" stroke="#160c08" stroke-width="1.5"/>
<path d="M391.1 1197.2 H430.8" stroke="#160c08" stroke-width="2.6"/>
<path d="M391.6 1158.7 V1197.6" stroke="#160c08" stroke-width="2.4"/>
<text transform="translate(410.9,1185.7) scale(0.86,1)" fill="#ffffff">5</text>
<rect x="460.2" y="1158.8" width="38.1" height="36.8" fill="#e10613" stroke="#160c08" stroke-width="1.5"/>
<path d="M459.4 1196 H499.1" stroke="#160c08" stroke-width="2.6"/>
<path d="M459.9 1158 V1196.4" stroke="#160c08" stroke-width="2.4"/>
<text transform="translate(479.2,1184.8) scale(0.86,1)" fill="#ffffff">11</text>
<rect x="562.9" y="1158.3" width="38.3" height="36.1" fill="#e10613" stroke="#160c08" stroke-width="1.5"/>
<path d="M562.1 1194.8 H602" stroke="#160c08" stroke-width="2.6"/>
<path d="M562.6 1157.5 V1195.2" stroke="#160c08" stroke-width="2.4"/>
<text transform="translate(582,1183.9) scale(0.86,1)" fill="#ffffff">1</text>
<rect x="171.9" y="1196.1" width="37.3" height="36.3" fill="#e4e400" stroke="#160c08" stroke-width="1.5"/>
<path d="M171.1 1232.8 H210" stroke="#160c08" stroke-width="2.6"/>
<text transform="translate(190.6,1221.8) scale(0.86,1)" fill="#ff4a0a">0</text>
<rect x="282.4" y="1196.8" width="36.9" height="35.1" fill="#e4e400" stroke="#160c08" stroke-width="1.5"/>
<path d="M281.6 1232.3 H320.1" stroke="#160c08" stroke-width="2.6"/>
<text transform="translate(300.9,1221.9) scale(0.86,1)" fill="#ff4a0a">14</text>
<rect x="208.3" y="1232.4" width="37.8" height="37.4" fill="#e10613" stroke="#160c08" stroke-width="1.5"/>
<path d="M207.5 1270.2 H246.9" stroke="#160c08" stroke-width="2.6"/>
<path d="M208 1231.6 V1270.6" stroke="#160c08" stroke-width="2.4"/>
<text transform="translate(227.2,1258.7) scale(0.86,1)" fill="#ffffff">8</text>
<rect x="318.8" y="1231.9" width="37.3" height="36.1" fill="#e10613" stroke="#160c08" stroke-width="1.5"/>
<path d="M318 1268.4 H356.9" stroke="#160c08" stroke-width="2.6"/>
<path d="M318.5 1231.1 V1268.8" stroke="#160c08" stroke-width="2.4"/>
<text transform="translate(337.5,1257.5) scale(0.86,1)" fill="#ffffff">6</text>
<rect x="282.4" y="1264.4" width="36.1" height="35.6" fill="#e4e400" stroke="#160c08" stroke-width="1.5"/>
<path d="M281.6 1300.4 H319.3" stroke="#160c08" stroke-width="2.6"/>
<text transform="translate(300.4,1289.8) scale(0.86,1)" fill="#ff4a0a">4</text>
<rect x="318" y="1300" width="36.9" height="36.3" fill="#e10613" stroke="#160c08" stroke-width="1.5"/>
<path d="M317.2 1336.7 H355.7" stroke="#160c08" stroke-width="2.6"/>
<path d="M317.7 1299.2 V1337.1" stroke="#160c08" stroke-width="2.4"/>
<text transform="translate(336.4,1325.7) scale(0.86,1)" fill="#ffffff">12</text>
<rect x="98.7" y="1303.2" width="37.6" height="37.8" fill="#e4e400" stroke="#160c08" stroke-width="1.5"/>
<path d="M97.9 1341.4 H137.1" stroke="#160c08" stroke-width="2.6"/>
<text transform="translate(117.5,1329.7) scale(0.86,1)" fill="#ff4a0a">6</text>
<rect x="134.3" y="1341" width="38.1" height="38.3" fill="#e10613" stroke="#160c08" stroke-width="1.5"/>
<path d="M133.5 1379.7 H173.2" stroke="#160c08" stroke-width="2.6"/>
<path d="M134 1340.2 V1380.1" stroke="#160c08" stroke-width="2.4"/>
<text transform="translate(153.4,1367.7) scale(0.86,1)" fill="#ffffff">14</text>
</g>
<ellipse cx="482.3" cy="960.1" rx="15.2" ry="17.7" fill="none" stroke="#ff1a1a" stroke-width="2.2"/>
<ellipse cx="411.1" cy="1069.9" rx="14.7" ry="17.7" fill="none" stroke="#ffee00" stroke-width="2.2"/>
<rect x="289.8" y="1131.7" width="23.3" height="24.6" fill="none" stroke="#2a7fb0" stroke-width="1.5"/>
<rect x="327.1" y="1167.4" width="22.8" height="23.8" fill="none" stroke="#2a55a8" stroke-width="1.5"/>
</g>
<g id="pd" filter="url(#bl3)">
<polygon points="840,837.5 1477.7,837.5 1477.7,1384.7 867.2,1384.7 867.2,870.3 865,870.3" fill="#f2f2f2"/>
<path d="M843 841.4H1477.7 M845.7 845H1477.7 M848.5 848.7H1477.7 M851.4 852.4H1477.7 M854.2 856.1H1477.7 M857 859.8H1477.7 M859.8 863.5H1477.7 M862.6 867.1H1477.7 M865 870.3H1477.7" stroke="#8e8e8e" stroke-width="0.9" fill="none"/>
<path d="M847.5 837.5L879.5 870.3V1384.7 M935.9 837.5L956.3 870.3V1384.7 M1023.6 837.5L1034.2 870.3V1384.7 M1110.3 837.5L1111.5 870.3V1384.7 M1198.9 837.5L1189.1 870.3V1384.7 M1286.6 837.5L1266.5 870.3V1384.7 M1373.8 837.5L1343.8 870.3V1384.7 M1461.7 837.5L1421.2 870.3V1384.7 M867.2 917H1474L1477.7 914 M867.2 987H1474L1477.7 984 M867.2 1057.5H1474L1477.7 1054.5 M867.2 1128.1H1474L1477.7 1125.1 M867.2 1198.1H1474L1477.7 1195.1 M867.2 1268.5H1474L1477.7 1265.5 M867.2 1339.3H1474L1477.7 1336.3 M1475.2 870.3V1384.7" stroke="#b4b4b4" stroke-width="1.4" fill="none"/>
<path d="M838.9 837.5H1477.7 M867.2 870.3V1384.7 M857.4 917H873.3 M857.4 987H873.3 M857.4 1057.5H873.3 M857.4 1128.1H873.3 M857.4 1198.1H873.3 M857.4 1268.5H873.3 M857.4 1339.3H873.3" stroke="#2e2e2e" stroke-width="1.8" fill="none"/>
<path d="M840 837.5L866.8 871" stroke="#444" stroke-width="1.1" fill="none"/>
<g font-family="'Liberation Sans','DejaVu Sans',sans-serif" font-size="24" fill="#222" stroke="#222" stroke-width="0.25" text-anchor="middle">
<text transform="translate(847.5,829.3) scale(0.92,1)">4</text>
<text transform="translate(935.9,829.3) scale(0.92,1)">6</text>
<text transform="translate(1023.6,829.3) scale(0.92,1)">8</text>
<text transform="translate(1110.3,829.3) scale(0.92,1)">10</text>
<text transform="translate(1198.9,829.3) scale(0.92,1)">12</text>
<text transform="translate(1286.6,829.3) scale(0.92,1)">14</text>
<text transform="translate(1373.8,829.3) scale(0.92,1)">16</text>
<text transform="translate(1461.7,829.3) scale(0.92,1)">18</text>
<text transform="translate(841.4,936.1) scale(0.92,1)">18</text>
<text transform="translate(841.4,1006.1) scale(0.92,1)">16</text>
<text transform="translate(841.4,1076.6) scale(0.92,1)">14</text>
<text transform="translate(841.4,1147.2) scale(0.92,1)">12</text>
<text transform="translate(841.4,1217.2) scale(0.92,1)">10</text>
<text transform="translate(841.4,1287.6) scale(0.92,1)">8</text>
<text transform="translate(841.4,1358.4) scale(0.92,1)">6</text>
<g font-weight="bold" fill="#1c1c1c" stroke="#1c1c1c" stroke-width="0.5"><text x="1176.8" y="782.4" font-size="23.2">X-axis</text>
<text transform="translate(808.5,1130.5) rotate(-90)" y="8.2" font-family="'DejaVu Sans','Liberation Sans',sans-serif" font-size="22.5">Z-axis</text></g></g>
<g font-family="'Liberation Sans','DejaVu Sans',sans-serif" font-size="21" text-anchor="middle">
<rect x="905.7" y="904.2" width="43" height="38.6" fill="#e2de34" stroke="#160c08" stroke-width="1.6"/>
<path d="M904.9 943.2 H949.5" stroke="#160c08" stroke-width="2.6"/>
<path d="M949 903.4 V943.6" stroke="#160c08" stroke-width="2.4"/>
<text transform="translate(927.2,931.1) scale(0.88,1)" fill="#f85a1a">8</text>
<rect x="863.5" y="939.6" width="43" height="38.8" fill="#dc0c22" stroke="#160c08" stroke-width="1.6"/>
<path d="M862.7 978.8 H907.3" stroke="#160c08" stroke-width="2.6"/>
<text transform="translate(885,966.6) scale(0.88,1)" fill="#ffffff">0</text>
<rect x="1152.8" y="933.7" width="44.2" height="40.3" fill="#e2de34" stroke="#160c08" stroke-width="1.6"/>
<path d="M1152 974.4 H1197.8" stroke="#160c08" stroke-width="2.6"/>
<path d="M1197.3 932.9 V974.8" stroke="#160c08" stroke-width="2.4"/>
<text transform="translate(1174.9,961.4) scale(0.88,1)" fill="#f85a1a">5</text>
<rect x="1111" y="972.3" width="42.5" height="38.5" fill="#dc0c22" stroke="#160c08" stroke-width="1.6"/>
<path d="M1110.2 1011.2 H1154.3" stroke="#160c08" stroke-width="2.6"/>
<text transform="translate(1132.2,999.1) scale(0.88,1)" fill="#ffffff">13</text>
<rect x="988.3" y="1015.7" width="42.2" height="38.1" fill="#e2de34" stroke="#160c08" stroke-width="1.6"/>
<path d="M987.5 1054.2 H1031.3" stroke="#160c08" stroke-width="2.6"/>
<path d="M1030.8 1014.9 V1054.6" stroke="#160c08" stroke-width="2.4"/>
<text transform="translate(1009.4,1042.3) scale(0.88,1)" fill="#f85a1a">1</text>
<rect x="1152.3" y="1014" width="43" height="39.3" fill="#e2de34" stroke="#160c08" stroke-width="1.6"/>
<path d="M1151.5 1053.7 H1196.1" stroke="#160c08" stroke-width="2.6"/>
<path d="M1195.6 1013.2 V1054.1" stroke="#160c08" stroke-width="2.4"/>
<text transform="translate(1173.8,1041.2) scale(0.88,1)" fill="#f85a1a">15</text>
<rect x="945.8" y="1052.6" width="42.5" height="37.5" fill="#dc0c22" stroke="#160c08" stroke-width="1.6"/>
<path d="M945 1090.5 H989.1" stroke="#160c08" stroke-width="2.6"/>
<text transform="translate(967,1078.9) scale(0.88,1)" fill="#ffffff">9</text>
<rect x="1111" y="1050.8" width="42.5" height="39.3" fill="#dc0c22" stroke="#160c08" stroke-width="1.6"/>
<path d="M1110.2 1090.5 H1154.3" stroke="#160c08" stroke-width="2.6"/>
<text transform="translate(1132.2,1078) scale(0.88,1)" fill="#ffffff">7</text>
<rect x="1111.5" y="1090.9" width="40.8" height="36.4" fill="#e2de34" stroke="#160c08" stroke-width="1.6"/>
<path d="M1110.7 1127.7 H1153.1" stroke="#160c08" stroke-width="2.6"/>
<path d="M1152.6 1090.1 V1128.1" stroke="#160c08" stroke-width="2.4"/>
<text transform="translate(1131.9,1116.7) scale(0.88,1)" fill="#f85a1a">11</text>
<rect x="915.1" y="1127.3" width="39.8" height="36.4" fill="#e2de34" stroke="#160c08" stroke-width="1.6"/>
<path d="M914.3 1164.1 H955.7" stroke="#160c08" stroke-width="2.6"/>
<path d="M955.2 1126.5 V1164.5" stroke="#160c08" stroke-width="2.4"/>
<text transform="translate(935,1153.1) scale(0.88,1)" fill="#f85a1a">7</text>
<rect x="991.2" y="1127.3" width="40.5" height="37.1" fill="#e2de34" stroke="#160c08" stroke-width="1.6"/>
<path d="M990.4 1164.8 H1032.5" stroke="#160c08" stroke-width="2.6"/>
<path d="M1032 1126.5 V1165.2" stroke="#160c08" stroke-width="2.4"/>
<text transform="translate(1011.5,1153.4) scale(0.88,1)" fill="#f85a1a">2</text>
<rect x="1070.3" y="1127.3" width="41.2" height="37.6" fill="#dc0c22" stroke="#160c08" stroke-width="1.6"/>
<path d="M1069.5 1165.3 H1112.3" stroke="#160c08" stroke-width="2.6"/>
<text transform="translate(1090.9,1153.7) scale(0.88,1)" fill="#ffffff">3</text>
<rect x="1111.5" y="1127.3" width="40.8" height="37.6" fill="#e2de34" stroke="#160c08" stroke-width="1.6"/>
<path d="M1110.7 1165.3 H1153.1" stroke="#160c08" stroke-width="2.6"/>
<path d="M1152.6 1126.5 V1165.7" stroke="#160c08" stroke-width="2.4"/>
<text transform="translate(1131.9,1153.7) scale(0.88,1)" fill="#f85a1a">12</text>
<rect x="1152.3" y="1127.3" width="41.2" height="36.9" fill="#e2de34" stroke="#160c08" stroke-width="1.6"/>
<path d="M1151.5 1164.6 H1194.3" stroke="#160c08" stroke-width="2.6"/>
<path d="M1193.8 1126.5 V1165" stroke="#160c08" stroke-width="2.4"/>
<text transform="translate(1172.9,1153.3) scale(0.88,1)" fill="#f85a1a">10</text>
<rect x="1194" y="1127.3" width="42.3" height="38.3" fill="#e2de34" stroke="#160c08" stroke-width="1.6"/>
<path d="M1193.2 1166 H1237.1" stroke="#160c08" stroke-width="2.6"/>
<path d="M1236.6 1126.5 V1166.4" stroke="#160c08" stroke-width="2.4"/>
<text transform="translate(1215.2,1154) scale(0.88,1)" fill="#f85a1a">13</text>
<rect x="1321.2" y="1127.3" width="43.5" height="38.8" fill="#e2de34" stroke="#160c08" stroke-width="1.6"/>
<path d="M1320.4 1166.5 H1365.5" stroke="#160c08" stroke-width="2.6"/>
<path d="M1365 1126.5 V1166.9" stroke="#160c08" stroke-width="2.4"/>
<text transform="translate(1343,1154.3) scale(0.88,1)" fill="#f85a1a">3</text>
<rect x="1411.4" y="1127.3" width="44.9" height="39.6" fill="#e2de34" stroke="#160c08" stroke-width="1.6"/>
<path d="M1410.6 1167.3 H1457.1" stroke="#160c08" stroke-width="2.6"/>
<path d="M1456.6 1126.5 V1167.7" stroke="#160c08" stroke-width="2.4"/>
<text transform="translate(1433.8,1154.7) scale(0.88,1)" fill="#f85a1a">9</text>
<rect x="873.8" y="1163.7" width="40.8" height="36.3" fill="#dc0c22" stroke="#160c08" stroke-width="1.6"/>
<path d="M873 1200.4 H915.4" stroke="#160c08" stroke-width="2.6"/>
<text transform="translate(894.2,1189.4) scale(0.88,1)" fill="#ffffff">15</text>
<rect x="949.4" y="1164.2" width="41.3" height="36.8" fill="#dc0c22" stroke="#160c08" stroke-width="1.6"/>
<path d="M948.6 1201.4 H991.5" stroke="#160c08" stroke-width="2.6"/>
<text transform="translate(970,1190.2) scale(0.88,1)" fill="#ffffff">10</text>
<rect x="1070.3" y="1165.6" width="41.2" height="36.9" fill="#dc0c22" stroke="#160c08" stroke-width="1.6"/>
<path d="M1069.5 1202.9 H1112.3" stroke="#160c08" stroke-width="2.6"/>
<text transform="translate(1090.9,1191.6) scale(0.88,1)" fill="#ffffff">4</text>
<rect x="1111.5" y="1165.6" width="41.3" height="36.9" fill="#dc0c22" stroke="#160c08" stroke-width="1.6"/>
<path d="M1110.7 1202.9 H1153.6" stroke="#160c08" stroke-width="2.6"/>
<text transform="translate(1132.2,1191.6) scale(0.88,1)" fill="#ffffff">2</text>
<rect x="1152.8" y="1165.6" width="41.7" height="37.4" fill="#dc0c22" stroke="#160c08" stroke-width="1.6"/>
<path d="M1152 1203.4 H1195.3" stroke="#160c08" stroke-width="2.6"/>
<text transform="translate(1173.7,1191.9) scale(0.88,1)" fill="#ffffff">5</text>
<rect x="1279.5" y="1166.1" width="44.2" height="38.8" fill="#dc0c22" stroke="#160c08" stroke-width="1.6"/>
<path d="M1278.7 1205.3 H1324.5" stroke="#160c08" stroke-width="2.6"/>
<text transform="translate(1301.6,1193.1) scale(0.88,1)" fill="#ffffff">11</text>
<rect x="1369.6" y="1166.9" width="45.9" height="39.8" fill="#dc0c22" stroke="#160c08" stroke-width="1.6"/>
<path d="M1368.8 1207.1 H1416.3" stroke="#160c08" stroke-width="2.6"/>
<text transform="translate(1392.5,1194.4) scale(0.88,1)" fill="#ffffff">1</text>
<rect x="1151.8" y="1202.5" width="40.5" height="36.1" fill="#e2de34" stroke="#160c08" stroke-width="1.6"/>
<path d="M1151 1239 H1193.1" stroke="#160c08" stroke-width="2.6"/>
<path d="M1192.6 1201.7 V1239.4" stroke="#160c08" stroke-width="2.4"/>
<text transform="translate(1172,1228.1) scale(0.88,1)" fill="#f85a1a">0</text>
<rect x="1193.5" y="1202.5" width="41.8" height="36.8" fill="#e2de34" stroke="#160c08" stroke-width="1.6"/>
<path d="M1192.7 1239.7 H1236.1" stroke="#160c08" stroke-width="2.6"/>
<path d="M1235.6 1201.7 V1240.1" stroke="#160c08" stroke-width="2.4"/>
<text transform="translate(1214.4,1228.5) scale(0.88,1)" fill="#f85a1a">14</text>
<rect x="1111.5" y="1236.9" width="40.3" height="37.3" fill="#dc0c22" stroke="#160c08" stroke-width="1.6"/>
<path d="M1110.7 1274.6 H1152.6" stroke="#160c08" stroke-width="2.6"/>
<text transform="translate(1131.7,1263.1) scale(0.88,1)" fill="#ffffff">8</text>
<rect x="1152.3" y="1239.3" width="41.7" height="38.6" fill="#dc0c22" stroke="#160c08" stroke-width="1.6"/>
<path d="M1151.5 1278.3 H1194.8" stroke="#160c08" stroke-width="2.6"/>
<text transform="translate(1173.2,1266.2) scale(0.88,1)" fill="#ffffff">6</text>
<rect x="1315.6" y="1276.1" width="41.7" height="37.9" fill="#e2de34" stroke="#160c08" stroke-width="1.6"/>
<path d="M1314.8 1314.4 H1358.1" stroke="#160c08" stroke-width="2.6"/>
<path d="M1357.6 1275.3 V1314.8" stroke="#160c08" stroke-width="2.4"/>
<text transform="translate(1336.4,1302.6) scale(0.88,1)" fill="#f85a1a">4</text>
<rect x="1150.3" y="1306.6" width="40.8" height="37.6" fill="#e2de34" stroke="#160c08" stroke-width="1.6"/>
<path d="M1149.5 1344.6 H1191.9" stroke="#160c08" stroke-width="2.6"/>
<path d="M1191.4 1305.8 V1345" stroke="#160c08" stroke-width="2.4"/>
<text transform="translate(1170.7,1333) scale(0.88,1)" fill="#f85a1a">6</text>
<rect x="1275.1" y="1314.7" width="42.9" height="38.6" fill="#dc0c22" stroke="#160c08" stroke-width="1.6"/>
<path d="M1274.3 1353.7 H1318.8" stroke="#160c08" stroke-width="2.6"/>
<text transform="translate(1296.5,1341.6) scale(0.88,1)" fill="#ffffff">12</text>
<rect x="1111" y="1344.2" width="40.1" height="37.5" fill="#dc0c22" stroke="#160c08" stroke-width="1.6"/>
<path d="M1110.2 1382.1 H1151.9" stroke="#160c08" stroke-width="2.6"/>
<text transform="translate(1131,1370.5) scale(0.88,1)" fill="#ffffff">14</text>
</g>
<circle cx="1176.3" cy="954.3" r="17.5" fill="none" stroke="#ff2418" stroke-width="2.2"/>
<circle cx="1131" cy="1072" r="16.5" fill="none" stroke="#ffd82a" stroke-width="2.3"/>
<rect x="1160.9" y="1133" width="27" height="23.8" fill="none" stroke="#2a8aa0" stroke-width="1.5"/>
<rect x="1117.7" y="1172.3" width="27.5" height="24.5" fill="none" stroke="#3a4a9a" stroke-width="1.5"/>
</g>
<g font-family="'Liberation Serif','DejaVu Serif',serif" font-size="37" fill="#111" text-anchor="middle"><text x="380" y="742.6">(<tspan font-weight="bold">a</tspan>)</text><text x="1139" y="742.6">(<tspan font-weight="bold">b</tspan>)</text><text x="380" y="1443.8">(<tspan font-weight="bold">c</tspan>)</text><text x="1139" y="1443.8">(<tspan font-weight="bold">d</tspan>)</text></g>
</svg>
</body></html>
